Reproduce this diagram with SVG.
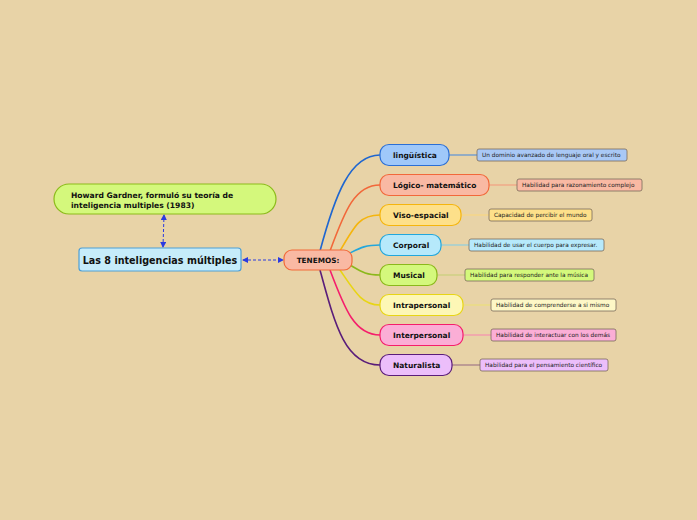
<svg xmlns="http://www.w3.org/2000/svg" width="697" height="520" viewBox="0 0 697 520">
<defs>
<marker id="ah" viewBox="0 0 6 6" refX="5" refY="3" markerWidth="6" markerHeight="6" orient="auto-start-reverse"><path d="M0,0 L6,3 L0,6 z" fill="#2b3be0"/></marker>
<style>
text{font-family:"DejaVu Sans",Verdana,sans-serif;font-weight:bold;fill:#111}
.b{stroke-width:1.2}
.lf{stroke:#7a6a5a;stroke-width:0.8}
.lt{font-size:5.8px;font-weight:normal;fill:#222}
.bt{font-size:7.5px}
.c{fill:none;stroke-width:1.6}
.s{fill:none;stroke-width:1.2}
</style>
</defs>
<rect width="697" height="520" fill="#e8d3a7"/>
<g id="connectors">
<line x1="163" y1="247" x2="164" y2="215" stroke="#2b3be0" stroke-dasharray="3,2" marker-start="url(#ah)" marker-end="url(#ah)"/>
<line x1="243" y1="260" x2="283" y2="260" stroke="#2b3be0" stroke-dasharray="3,2" marker-start="url(#ah)" marker-end="url(#ah)"/>
<path class="c" stroke="#1f66d0" d="M320 251 C335 195,350 155,380 155"/>
<path class="c" stroke="#f2683a" d="M330 251 C345 210,355 185,380 185"/>
<path class="c" stroke="#f5b50d" d="M340 251 C355 225,360 215,380 215"/>
<path class="c" stroke="#22a7dc" d="M350 253 C360 248,365 245,380 245"/>
<path class="c" stroke="#8bb81b" d="M350 265 C362 272,366 275,380 275"/>
<path class="c" stroke="#e8d514" d="M340 270 C355 292,362 305,380 305"/>
<path class="c" stroke="#f51e6c" d="M330 270 C345 310,355 335,380 335"/>
<path class="c" stroke="#5a1d7a" d="M320 270 C335 325,345 365,380 365"/>
<line class="s" stroke="#5b93d8" x1="449" y1="155" x2="477" y2="155"/>
<line class="s" stroke="#f2a080" x1="489" y1="185" x2="517" y2="185"/>
<line class="s" stroke="#f8d880" x1="461" y1="215" x2="489" y2="215"/>
<line class="s" stroke="#8ccfe0" x1="441" y1="245" x2="469" y2="245"/>
<line class="s" stroke="#c9d07a" x1="437" y1="275" x2="465" y2="275"/>
<line class="s" stroke="#ece07a" x1="463" y1="305" x2="491" y2="305"/>
<line class="s" stroke="#f590b0" x1="463" y1="335" x2="491" y2="335"/>
<line class="s" stroke="#a07888" x1="452" y1="365" x2="480" y2="365"/>
</g>
<g id="main"><rect x="79" y="248" width="162" height="23" rx="3" fill="#c6ecfa" stroke="#4d9fd6" class="b"/><text x="160" y="263.5" font-size="9.6" text-anchor="middle">Las 8 inteligencias múltiples</text></g>
<g id="howard"><rect x="54" y="184" width="222" height="30" rx="15" fill="#d4f87c" stroke="#8bbb1a" class="b"/><text x="71" y="198" font-size="7.6">Howard Gardner, formuló su teoría de</text><text x="71" y="207.5" font-size="7.6">inteligencia multiples (1983)</text></g>
<g id="tenemos"><rect x="284" y="250" width="68" height="20" rx="8" fill="#f9b9a3" stroke="#f26a3a" class="b"/><text x="318" y="263" font-size="7.3" text-anchor="middle">TENEMOS:</text></g>
<g id="n1"><rect x="380" y="144.5" width="69" height="21" rx="9" fill="#9fc8fa" stroke="#2b6fd6" class="b"/><text x="393" y="158" class="bt">lingüística</text></g>
<g id="n2"><rect x="380" y="174.5" width="109" height="21" rx="9" fill="#f9b9a3" stroke="#f2683a" class="b"/><text x="393" y="188" class="bt">Lógico- matemático</text></g>
<g id="n3"><rect x="380" y="204.5" width="81" height="21" rx="9" fill="#fde08a" stroke="#f5b50d" class="b"/><text x="393" y="218" class="bt">Viso-espacial</text></g>
<g id="n4"><rect x="380" y="234.5" width="61" height="21" rx="9" fill="#b6e9fb" stroke="#22a7dc" class="b"/><text x="393" y="248" class="bt">Corporal</text></g>
<g id="n5"><rect x="380" y="264.5" width="57" height="21" rx="9" fill="#d4f87c" stroke="#8bb81b" class="b"/><text x="393" y="278" class="bt">Musical</text></g>
<g id="n6"><rect x="380" y="294.5" width="83" height="21" rx="9" fill="#fdf7b6" stroke="#e8d514" class="b"/><text x="393" y="308" class="bt">Intrapersonal</text></g>
<g id="n7"><rect x="380" y="324.5" width="83" height="21" rx="9" fill="#fbaed6" stroke="#f51e6c" class="b"/><text x="393" y="338" class="bt">Interpersonal</text></g>
<g id="n8"><rect x="380" y="354.5" width="72" height="21" rx="9" fill="#ecbefa" stroke="#5a1d7a" class="b"/><text x="393" y="368" class="bt">Naturalista</text></g>
<g id="l1"><rect class="lf" x="477" y="149" width="150" height="12" rx="2" fill="#a9c8f5"/><text class="lt" x="482" y="157">Un dominio avanzado de lenguaje oral y escrito</text></g>
<g id="l2"><rect class="lf" x="517" y="179" width="125" height="12" rx="2" fill="#f9b9a3"/><text class="lt" x="522" y="187">Habilidad para razonamiento  complejo</text></g>
<g id="l3"><rect class="lf" x="489" y="209" width="103" height="12" rx="2" fill="#fde08a"/><text class="lt" x="494" y="217">Capacidad de percibir el mundo</text></g>
<g id="l4"><rect class="lf" x="469" y="239" width="135" height="12" rx="2" fill="#b6e9fb"/><text class="lt" x="474" y="247">Habilidad de usar el cuerpo para expresar.</text></g>
<g id="l5"><rect class="lf" x="465" y="269" width="129" height="12" rx="2" fill="#d4f87c"/><text class="lt" x="470" y="277">Habilidad para responder ante la música</text></g>
<g id="l6"><rect class="lf" x="491" y="299" width="125" height="12" rx="2" fill="#fdf7c6"/><text class="lt" x="496" y="307">Habilidad de comprenderse a si mismo</text></g>
<g id="l7"><rect class="lf" x="491" y="329" width="125" height="12" rx="2" fill="#fbaed6"/><text class="lt" x="496" y="337">Habilidad de interactuar con los demás</text></g>
<g id="l8"><rect class="lf" x="480" y="359" width="128" height="12" rx="2" fill="#ecbefa"/><text class="lt" x="485" y="367">Habilidad para el pensamiento científico</text></g>
</svg>
